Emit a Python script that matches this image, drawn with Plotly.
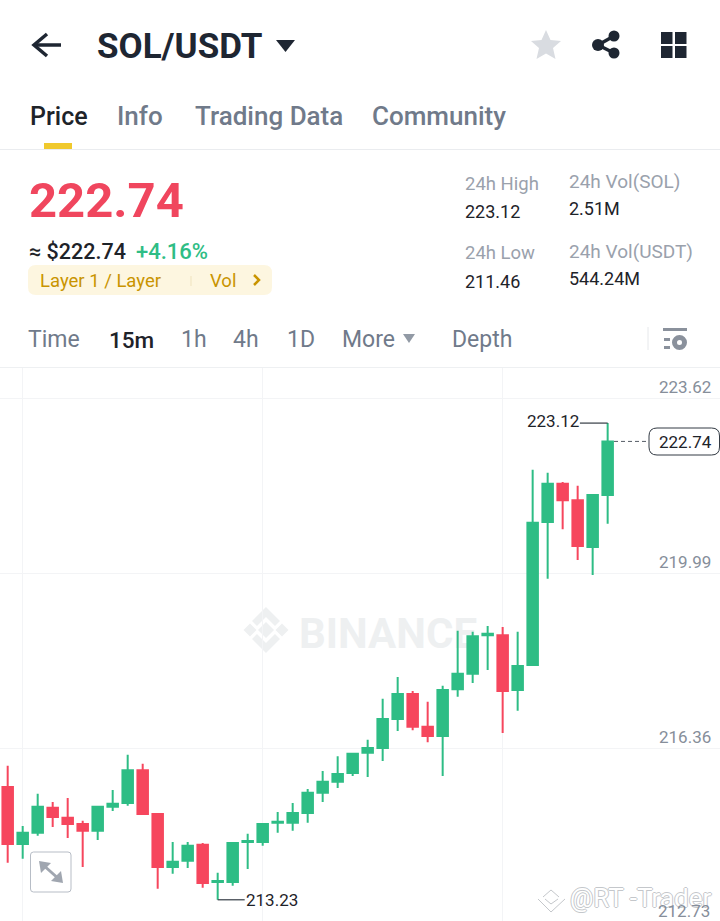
import plotly.graph_objects as go

# candle values (15m SOL/USDT)
opens = [215.57, 214.39, 214.62, 215.14, 214.93, 214.80, 214.66, 215.16, 215.24, 215.92, 215.01,
         213.91, 214.04, 214.37, 213.60, 213.60, 214.43, 214.43, 214.83, 214.83, 215.03, 215.45,
         215.68, 215.86, 216.28, 216.38, 216.98, 217.50, 216.82, 216.63, 217.60, 217.92, 218.72,
         218.72, 217.58, 218.10, 221.07, 221.86, 221.52, 220.55, 221.63]
closes = [214.39, 214.62, 215.16, 214.95, 214.80, 214.66, 215.16, 215.22, 215.92, 215.01, 213.91,
          214.02, 214.35, 213.58, 213.62, 214.41, 214.45, 214.80, 214.85, 215.03, 215.45, 215.68,
          215.84, 216.26, 216.38, 216.98, 217.50, 216.82, 216.63, 217.58, 217.92, 218.70, 218.75,
          217.56, 218.08, 221.05, 221.86, 221.52, 220.57, 221.63, 222.74]
highs = [216.01, 214.76, 215.43, 215.26, 215.34, 214.87, 215.16, 215.51, 216.24, 216.05, 215.01,
         214.43, 214.43, 214.41, 213.79, 214.41, 214.60, 214.80, 215.05, 215.24, 215.53, 215.90,
         216.21, 216.28, 216.55, 217.40, 217.85, 217.56, 217.34, 217.67, 218.81, 218.79, 218.91,
         218.89, 218.79, 222.15, 222.09, 221.90, 221.82, 221.63, 223.12]
lows = [214.00, 214.08, 214.56, 214.74, 214.51, 213.91, 214.47, 215.07, 215.18, 215.01, 213.46,
        213.77, 213.89, 213.48, 213.23, 213.52, 213.87, 214.35, 214.62, 214.66, 214.83, 215.26,
        215.55, 215.80, 215.78, 216.11, 216.73, 216.75, 216.50, 215.80, 217.44, 217.73, 218.00,
        216.69, 217.15, 218.10, 219.89, 220.92, 220.28, 219.97, 221.03]
candle_idx = list(range(len(opens)))

price_ticks = [216.36, 219.99, 223.62]
price_labels = ["216.36", "219.99", "223.62"]
bottom_label = "212.73"
time_ticks = [1, 17, 33]
last_price = 222.74
day_high = 223.12
low_candle = 14
day_low = 213.23

GREEN = "#2EBD85"
RED = "#F6465D"
DARK = "#1E2632"
GREY = "#707A8A"
LIGHT = "#9AA1AC"
GOLD = "#C99400"
GRID = "#F3F4F6"
FONT = "Roboto"
W, H = 720, 921


def px(x):
    return x / W


def py(y):
    return 1 - y / H


def p(*pts):
    # path in screen pixels -> paper coords
    out = []
    for i, (x, y) in enumerate(pts):
        out.append(("M" if i == 0 else "L") + f"{px(x):.5f},{py(y):.5f}")
    return " ".join(out) + " Z"


def rounded(x0, y0, x1, y1, r):
    a, b, c, d = px(x0), px(x1), py(y0), py(y1)
    rx, ry = r / W, r / H
    return (f"M{a + rx},{c} L{b - rx},{c} Q{b},{c} {b},{c - ry} L{b},{d + ry} Q{b},{d} {b - rx},{d} "
            f"L{a + rx},{d} Q{a},{d} {a},{d + ry} L{a},{c - ry} Q{a},{c} {a + rx},{c} Z")


fig = go.Figure(go.Candlestick(
    x=candle_idx, open=opens, high=highs, low=lows, close=closes,
    increasing=dict(line=dict(color=GREEN, width=2), fillcolor=GREEN),
    decreasing=dict(line=dict(color=RED, width=2), fillcolor=RED),
    whiskerwidth=0, hoverinfo="skip",
))


def txt(x, y, s, size, color, anchor="left", weight=400, **kw):
    fig.add_annotation(xref="paper", yref="paper", x=px(x - 1 if anchor == "left" else x), y=py(y), text=s,
                       showarrow=False, xanchor=anchor, yanchor="middle", borderpad=0,
                       font=dict(family=FONT, size=size, color=color, weight=weight, **kw))


def shape_path(path, color, line=0, fill=True, layer="above"):
    fig.add_shape(type="path", xref="paper", yref="paper", path=path, layer=layer,
                  fillcolor=color if fill else "rgba(0,0,0,0)",
                  line=dict(color=color, width=line))


def open_path(pts, color, width):
    d = " ".join(("M" if i == 0 else "L") + f"{px(x):.5f},{py(y):.5f}" for i, (x, y) in enumerate(pts))
    fig.add_shape(type="path", xref="paper", yref="paper", path=d, line=dict(color=color, width=width))


def seg(x0, y0, x1, y1, color, width=1, dash="solid"):
    fig.add_shape(type="line", xref="paper", yref="paper", x0=px(x0), y0=py(y0), x1=px(x1), y1=py(y1),
                  line=dict(color=color, width=width, dash=dash))


def dot(cx, cy, r, color):
    fig.add_shape(type="circle", xref="paper", yref="paper", x0=px(cx - r), x1=px(cx + r),
                  y0=py(cy + r), y1=py(cy - r), fillcolor=color, line=dict(width=0))


# header
seg(34, 45, 61, 45, DARK, 3.5)
open_path([(47, 34), (34, 45), (47, 56)], DARK, 3.5)
txt(97, 46, "SOL/USDT", 35, DARK, weight=700)
shape_path(p((276, 40), (295, 40), (285.5, 52)), DARK)

star = [(546, 30), (550.5, 40), (561, 41), (553, 48), (555.5, 59), (546, 53.5), (536.5, 59),
        (539, 48), (531, 41), (541.5, 40)]
shape_path(p(*star), "#D9DCE1")

seg(598, 45, 614, 36, DARK, 3.5)
seg(598, 45, 614, 53, DARK, 3.5)
dot(614, 36, 5.5, DARK)
dot(614, 53, 5.5, DARK)
dot(598, 45, 6, DARK)

for x0 in (661, 675):
    for y0 in (32, 46):
        shape_path(p((x0, y0), (x0 + 11.5, y0), (x0 + 11.5, y0 + 12), (x0, y0 + 12)), DARK)

# tabs
txt(30, 116, "Price", 25, "#1E2329", weight=500)
txt(117, 116, "Info", 26, GREY, weight=500)
txt(195, 116, "Trading Data", 26, GREY, weight=500)
txt(372, 116, "Community", 26, GREY, weight=500)
seg(0, 149.5, 720, 149.5, "#EAECEF", 1)
shape_path(p((44, 143), (72, 143), (72, 149), (44, 149)), "#F0C92D")

# price block
txt(29, 200, "222.74", 49, "#F0465E", weight=700)
txt(29, 251, "≈ $222.74", 21.5, "#1E2329", weight=500)
txt(136, 251, "+4.16%", 22, GREEN, weight=500)
shape_path(rounded(28, 265, 272, 295, 8), "#FDF6E0", layer="below")
txt(40, 281, "Layer 1 / Layer", 18.5, GOLD)
seg(191, 276, 191, 286, "#EFE3BE", 1)
txt(210, 281, "Vol", 18.5, GOLD)
open_path([(254, 275), (259, 280), (254, 285)], GOLD, 2.5)

# 24h stats
txt(465, 184, "24h High", 18.5, LIGHT)
txt(465, 211, "223.12", 18, "#1E2329")
txt(569, 182, "24h Vol(SOL)", 19, LIGHT)
txt(569, 208, "2.51M", 18, "#1E2329")
txt(465, 253, "24h Low", 18.5, LIGHT)
txt(465, 281, "211.46", 18, "#1E2329")
txt(569, 251, "24h Vol(USDT)", 19, LIGHT)
txt(569, 278, "544.24M", 18, "#1E2329")

# interval bar
txt(28, 340, "Time", 23, GREY)
txt(109, 340, "15m", 22.5, "#1E2329", weight=500)
txt(181, 340, "1h", 23, GREY)
txt(233, 340, "4h", 23, GREY)
txt(287, 340, "1D", 23, GREY)
txt(342, 340, "More", 23, GREY)
shape_path(p((403, 334), (415, 334), (409, 343)), "#929AA5")
txt(452, 340, "Depth", 23, GREY)
seg(648, 327, 648, 350, "#E6E8EB", 1)
seg(663, 329.5, 687, 329.5, "#8A919C", 3)
seg(664, 339.5, 670, 339.5, "#8A919C", 3)
seg(664, 347.5, 670, 347.5, "#8A919C", 3)
fig.add_shape(type="circle", xref="paper", yref="paper", x0=px(674.5), x1=px(684.5), y0=py(347.5), y1=py(337.5),
              fillcolor="rgba(0,0,0,0)", line=dict(color="#8A919C", width=5))
seg(0, 367.5, 720, 367.5, "#EEF0F2", 1)

# watermark, under the candles
logo = "#EEF0F1"
for cx, cy, r in [(266, 630, 8), (250, 630, 6.5), (282, 630, 6.5)]:
    shape_path(p((cx - r, cy), (cx, cy - r), (cx + r, cy), (cx, cy + r)), logo, layer="below")
shape_path(p((266, 607), (280, 621), (275, 626), (266, 617), (257, 626), (252, 621)), logo, layer="below")
shape_path(p((266, 653), (280, 639), (275, 634), (266, 643), (257, 634), (252, 639)), logo, layer="below")
fig.add_shape(type="rect", xref="paper", yref="paper", x0=px(295), x1=px(481), y0=py(650), y1=py(610),
              layer="below", line=dict(width=0), fillcolor="rgba(0,0,0,0)",
              label=dict(text="BINANCE", textposition="middle center",
                         font=dict(family=FONT, size=42, color=logo, weight=700)))

# price labels sit just above their grid lines
for v, s in zip(price_ticks, price_labels):
    fig.add_annotation(xref="paper", yref="y", x=px(713), y=v, text=s, showarrow=False,
                       xanchor="right", yanchor="bottom", font=dict(family=FONT, size=17, color="#868E9A"))

# day high marker
fig.add_shape(type="line", xref="x", yref="y", x0=40, x1=38.15, y0=day_high, y1=day_high,
              line=dict(color="#333B44", width=1.2))
fig.add_annotation(xref="x", yref="y", x=38.15, y=day_high, xshift=1, yshift=2, text=f"{day_high:.2f}",
                   showarrow=False, xanchor="right", font=dict(family=FONT, size=17, color="#1E2329"))
# low marker
fig.add_shape(type="line", xref="x", yref="y", x0=low_candle, x1=low_candle + 1.8, y0=day_low, y1=day_low,
              line=dict(color="#333B44", width=1.2))
fig.add_annotation(xref="x", yref="y", x=low_candle + 1.8, y=day_low, xshift=-1, text=f"{day_low:.2f}",
                   showarrow=False, xanchor="left", font=dict(family=FONT, size=17, color="#1E2329"))

# last price tag
fig.add_shape(type="line", xref="paper", yref="y", x0=px(614), x1=px(649), y0=last_price, y1=last_price,
              line=dict(color="#555C66", width=1, dash="4px,3px"))
shape_path(rounded(649, 428, 719.5, 455, 8), "#FFFFFF")
fig.add_shape(type="path", xref="paper", yref="paper", path=rounded(649, 428, 719.5, 455, 8),
              line=dict(color="#333B44", width=1))
txt(685, 441.5, f"{last_price:.2f}", 17, "#1E2329", anchor="center")

# expand button
fig.add_shape(type="path", xref="paper", yref="paper", path=rounded(30.5, 852, 71, 892, 3),
              line=dict(color="#B7BDC6", width=1))
seg(42, 864, 60, 880, "#A0A6B0", 3)
shape_path(p((39, 861), (51, 863), (41, 873)), "#A0A6B0")
shape_path(p((63, 883), (51, 881), (61, 871)), "#A0A6B0")

# user watermark, outlined text
txt(570, 898, "@RT -Trader", 26, "#FFFFFF",
    shadow="1px 0 #C4C7CB, -1px 0 #C4C7CB, 0 1px #C4C7CB, 0 -1px #C4C7CB")
open_path([(543, 897), (551, 890), (559, 897)], "#C4C7CB", 1)
open_path([(538, 899), (551, 912), (565, 899)], "#C4C7CB", 1)
open_path([(545, 899), (551, 904), (558, 899)], "#C4C7CB", 1)

# bottom grid line falls just below the frame, so this label is placed on the page
txt(711, 911, bottom_label, 17, "#868E9A", anchor="right")

fig.update_layout(
    width=W, height=H, margin=dict(l=0, r=0, t=0, b=0),
    paper_bgcolor="white", plot_bgcolor="white", showlegend=False, boxgap=0,
    xaxis=dict(range=[-0.513, 47.49], domain=[0, 1], rangeslider=dict(visible=False), tickvals=time_ticks,
               showticklabels=False, ticks="", showgrid=True, gridcolor=GRID, gridwidth=1,
               zeroline=False, showline=False),
    yaxis=dict(range=[212.79, 224.263], domain=[0, 1 - 368 / H], tickvals=price_ticks, showticklabels=False,
               ticks="", showgrid=True, gridcolor=GRID, gridwidth=1, zeroline=False, showline=False),
)

fig.write_html("out.html", config=dict(displayModeBar=False),
               post_script="document.body.style.margin='0';")
